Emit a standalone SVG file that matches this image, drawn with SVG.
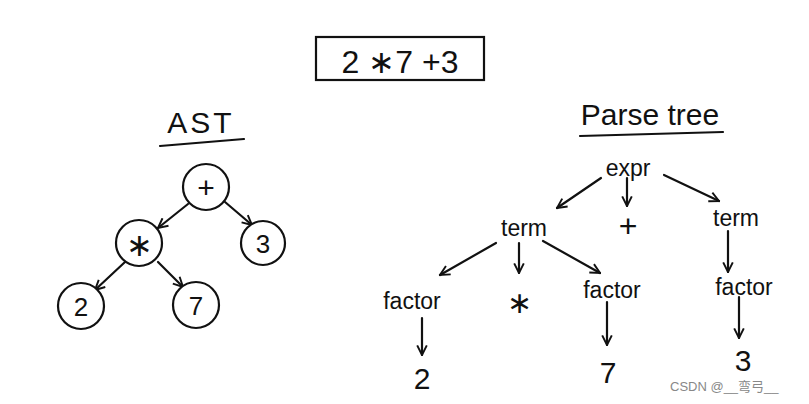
<svg xmlns="http://www.w3.org/2000/svg" width="809" height="404" viewBox="0 0 809 404">
<style>
.t{font-family:"Liberation Sans",sans-serif;fill:#111;text-anchor:middle}
.ln{stroke:#111;stroke-width:2.2;fill:none;stroke-linecap:round}
.c{stroke:#111;stroke-width:2.2;fill:#fff}
</style>
<defs><marker id="a" viewBox="0 0 10 10" refX="9" refY="5" markerWidth="12" markerHeight="12" markerUnits="userSpaceOnUse" orient="auto"><path d="M1,1 L9,5 L1,9" fill="none" stroke="#111" stroke-width="1.6"/></marker></defs>
<rect width="809" height="404" fill="#fff"/>
<g id="expr-box"><rect x="316" y="37" width="168" height="43" class="ln"/><text x="400" y="73" class="t" font-size="32">2 ∗7 +3</text></g>
<g id="ast-title"><text x="201" y="133" class="t" font-size="30" letter-spacing="3">AST</text><line x1="160" y1="146" x2="244" y2="139" class="ln"/></g>
<g id="pt-title"><text x="650" y="125" class="t" font-size="30">Parse tree</text><line x1="580" y1="136" x2="723" y2="132" class="ln"/></g>
<g id="connectors" class="ln" marker-end="url(#a)">
<line x1="188" y1="204" x2="158" y2="228"/><line x1="225" y1="202" x2="252" y2="225"/>
<line x1="125" y1="262" x2="95" y2="290"/><line x1="158" y1="262" x2="183" y2="287"/>
<line x1="601" y1="178" x2="557" y2="208"/><line x1="627" y1="178" x2="627" y2="206"/><line x1="664" y1="175" x2="719" y2="201"/>
<line x1="496" y1="243" x2="440" y2="275"/><line x1="519" y1="243" x2="519" y2="273"/><line x1="543" y1="241" x2="600" y2="273"/>
<line x1="728" y1="231" x2="728" y2="272"/>
<line x1="422" y1="318" x2="422" y2="355"/><line x1="607" y1="302" x2="607" y2="345"/><line x1="739" y1="297" x2="739" y2="338"/>
</g>
<g id="n-plus"><circle cx="206" cy="187" r="23" class="c"/><text x="206" y="198" class="t" font-size="30">+</text></g>
<g id="n-mul"><circle cx="139" cy="243" r="23" class="c"/><text x="139" y="256" class="t" font-size="32">∗</text></g>
<g id="n-3"><circle cx="263" cy="243" r="22" class="c"/><text x="263" y="253" class="t" font-size="26">3</text></g>
<g id="n-2"><circle cx="81" cy="306" r="23" class="c"/><text x="81" y="316" class="t" font-size="26">2</text></g>
<g id="n-7"><circle cx="196" cy="305" r="23" class="c"/><text x="196" y="315" class="t" font-size="26">7</text></g>
<g id="p-expr"><text x="628" y="176" class="t" font-size="23">expr</text></g>
<g id="p-term1"><text x="524" y="236" class="t" font-size="23">term</text></g>
<g id="p-plus"><text x="628" y="237" class="t" font-size="32">+</text></g>
<g id="p-term2"><text x="736" y="226" class="t" font-size="23">term</text></g>
<g id="p-factor1"><text x="412" y="309" class="t" font-size="23">factor</text></g>
<g id="p-mul"><text x="519" y="313" class="t" font-size="30">∗</text></g>
<g id="p-factor2"><text x="612" y="298" class="t" font-size="23">factor</text></g>
<g id="p-factor3"><text x="744" y="295" class="t" font-size="23">factor</text></g>
<g id="p-2"><text x="422" y="389" class="t" font-size="30">2</text></g>
<g id="p-7"><text x="608" y="383" class="t" font-size="30">7</text></g>
<g id="p-3"><text x="743" y="371" class="t" font-size="30">3</text></g>
<text x="670" y="391" font-family="'Liberation Sans','Noto Sans CJK SC',sans-serif" font-size="13" fill="#888">CSDN @__弯弓__</text>
</svg>
